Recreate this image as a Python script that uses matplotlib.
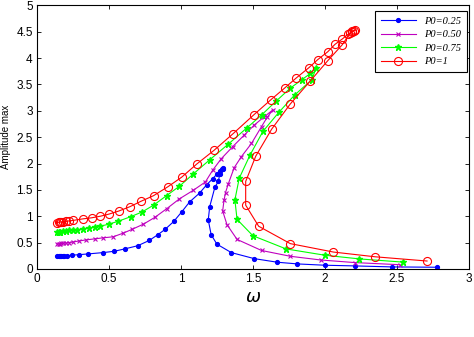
import matplotlib
matplotlib.use("Agg")
import matplotlib.pyplot as plt

# frequency-response curves (upper branch, then turning back along the lower branches)
w_025 = [0.14, 0.15, 0.16, 0.17, 0.18, 0.19, 0.21, 0.24, 0.29, 0.356, 0.46, 0.537, 0.61,
         0.70, 0.78, 0.84, 0.89, 0.95, 1.005, 1.06, 1.13, 1.18, 1.22, 1.25, 1.27, 1.285,
         1.295, 1.29, 1.27, 1.26, 1.236, 1.20, 1.19, 1.21, 1.25, 1.35, 1.51, 1.67, 1.81,
         2.0, 2.21, 2.47, 2.78]
a_025 = [0.24, 0.24, 0.24, 0.24, 0.24, 0.245, 0.25, 0.26, 0.27, 0.285, 0.31, 0.335, 0.38,
         0.44, 0.54, 0.65, 0.75, 0.90, 1.08, 1.27, 1.44, 1.60, 1.71, 1.80, 1.86, 1.90,
         1.92, 1.89, 1.80, 1.66, 1.55, 1.18, 0.93, 0.65, 0.47, 0.31, 0.195, 0.127, 0.095,
         0.07, 0.057, 0.038, 0.032]

w_050 = [0.14, 0.15, 0.16, 0.17, 0.18, 0.20, 0.22, 0.25, 0.29, 0.34, 0.40, 0.46, 0.53,
         0.60, 0.66, 0.74, 0.82, 0.90, 0.99, 1.085, 1.17, 1.22, 1.28, 1.36, 1.44, 1.51,
         1.58, 1.64, 1.60, 1.56, 1.49, 1.42, 1.37, 1.33, 1.31, 1.30, 1.29, 1.32, 1.39,
         1.56, 1.76, 1.97, 2.21, 2.52]
a_050 = [0.475, 0.48, 0.48, 0.485, 0.49, 0.49, 0.50, 0.51, 0.53, 0.55, 0.57, 0.59, 0.61,
         0.68, 0.75, 0.85, 0.98, 1.14, 1.33, 1.49, 1.65, 1.87, 2.09, 2.32, 2.54, 2.73,
         2.89, 3.02, 2.88, 2.70, 2.38, 2.13, 1.92, 1.62, 1.45, 1.31, 1.10, 0.84, 0.56,
         0.35, 0.24, 0.17, 0.12, 0.08]

w_075 = [0.14, 0.15, 0.16, 0.18, 0.20, 0.22, 0.25, 0.28, 0.32, 0.36, 0.40, 0.44, 0.50,
         0.565, 0.65, 0.73, 0.81, 0.90, 0.99, 1.085, 1.20, 1.33, 1.46, 1.56, 1.66, 1.76,
         1.84, 1.90, 1.94, 1.91, 1.79, 1.68, 1.57, 1.48, 1.405, 1.375, 1.39, 1.50, 1.73,
         2.0, 2.24, 2.54]
a_075 = [0.70, 0.70, 0.71, 0.715, 0.72, 0.73, 0.74, 0.745, 0.76, 0.78, 0.79, 0.81, 0.85,
         0.905, 0.99, 1.08, 1.21, 1.39, 1.57, 1.80, 2.07, 2.37, 2.68, 2.92, 3.18, 3.43,
         3.59, 3.71, 3.82, 3.59, 3.30, 2.97, 2.61, 2.16, 1.72, 1.31, 0.94, 0.63, 0.38,
         0.26, 0.19, 0.13]

w_100 = [0.14, 0.15, 0.16, 0.17, 0.18, 0.20, 0.22, 0.25, 0.32, 0.38, 0.44, 0.50, 0.57,
         0.645, 0.72, 0.81, 0.91, 1.005, 1.11, 1.23, 1.36, 1.505, 1.625, 1.72, 1.80,
         1.89, 1.95, 2.02, 2.07, 2.12, 2.16, 2.19, 2.20, 2.21, 2.19, 2.175, 2.12, 2.02,
         1.90, 1.76, 1.63, 1.52, 1.45, 1.45, 1.54, 1.76, 2.06, 2.35, 2.71]
a_100 = [0.88, 0.885, 0.89, 0.89, 0.895, 0.90, 0.91, 0.92, 0.95, 0.97, 1.00, 1.04, 1.10,
         1.18, 1.28, 1.39, 1.56, 1.74, 1.99, 2.25, 2.56, 2.92, 3.21, 3.43, 3.62, 3.82,
         3.97, 4.12, 4.26, 4.36, 4.45, 4.50, 4.52, 4.53, 4.51, 4.47, 4.25, 3.95, 3.57,
         3.13, 2.65, 2.14, 1.66, 1.21, 0.81, 0.48, 0.32, 0.23, 0.15]

labels = ["P0=0.25", "P0=0.50", "P0=0.75", "P0=1"]

fig = plt.figure(figsize=(4.74, 3.37), dpi=100)
ax = fig.add_axes([0.078, 0.202, 0.911, 0.782])

ax.plot(w_025, a_025, color="#0000ff", lw=0.8, marker=".", ms=5.5, label=labels[0])
ax.plot(w_050, a_050, color="#bf00bf", lw=0.8, marker="x", ms=3, mew=0.8, label=labels[1])
ax.plot(w_075, a_075, color="#00ff00", lw=0.8, marker="*", ms=4.5, label=labels[2])
ax.plot(w_100, a_100, color="#ff0000", lw=0.8, marker="o", ms=5.8, mfc="none", mew=0.8,
        label=labels[3])

ax.set_xlim(0, 3)
ax.set_ylim(0, 5)
ax.set_xticks([0, 0.5, 1, 1.5, 2, 2.5, 3])
ax.set_xticklabels(["0", "0.5", "1", "1.5", "2", "2.5", "3"])
ax.set_yticks([0, 0.5, 1, 1.5, 2, 2.5, 3, 3.5, 4, 4.5, 5])
ax.set_yticklabels(["0", "0.5", "1", "1.5", "2", "2.5", "3", "3.5", "4", "4.5", "5"])
ax.tick_params(direction="in", top=True, right=True, length=3, width=0.6,
               labelsize=8.5, pad=3)
for lbl in ax.get_xticklabels() + ax.get_yticklabels():
    lbl.set_family("Liberation Sans")
for sp in ax.spines.values():
    sp.set_linewidth(0.8)

ax.set_xlabel(r"$\omega$", fontsize=13, labelpad=2)
ax.set_ylabel("Amplitude max", fontsize=7, family="Liberation Sans", labelpad=4)

leg = ax.legend(loc="upper right", bbox_to_anchor=(0.995, 0.977), borderaxespad=0,
                fancybox=False, edgecolor="black", framealpha=1,
                handlelength=3.4, labelspacing=0.4, borderpad=0.5,
                prop={"family": "Liberation Serif", "style": "italic", "size": 7.5})
leg.get_frame().set_linewidth(0.8)

fig.savefig("out.png", dpi=100)
